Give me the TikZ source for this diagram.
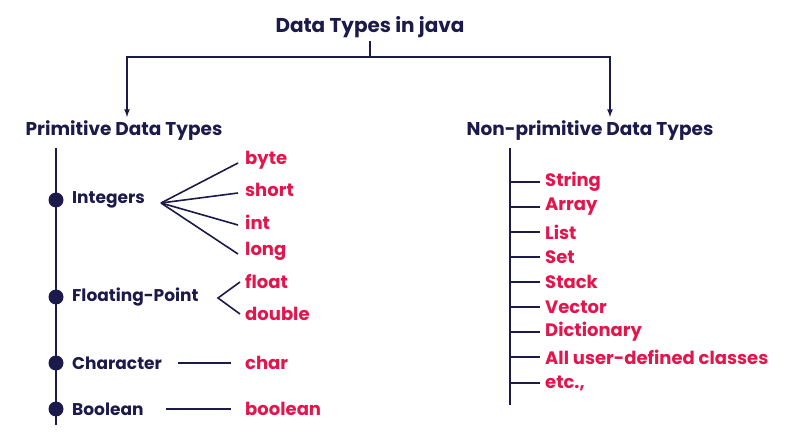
\documentclass[tikz,border=0pt]{standalone}
\usepackage{fontspec}
\setmainfont{Poppins}
\definecolor{navy}{HTML}{1C1A4A}
\definecolor{pink}{HTML}{E2154C}
\begin{document}
\begin{tikzpicture}[x=1pt,y=-1pt,
  ln/.style={draw=navy,line width=1.6pt},
  hd/.style={text=navy,font=\bfseries\fontsize{18.5}{20}\selectfont,inner sep=0pt},
  lb/.style={text=navy,font=\bfseries\fontsize{17}{20}\selectfont,anchor=west,inner sep=0pt},
  rd/.style={text=pink,font=\bfseries\fontsize{18}{20}\selectfont,anchor=west,inner sep=0pt},
  dot/.style={circle,fill=navy,minimum size=15pt,inner sep=0pt}]
\useasboundingbox (0,0) rectangle (800,443);
\node[hd,font=\bfseries\fontsize{20}{22}\selectfont] (title) at (370,27) {Data Types in java};
\node[hd] (prim) at (124,131) {Primitive Data Types};
\node[hd] (nonp) at (590,131) {Non-primitive Data Types};
\coordinate (j) at (370,57);
\draw[ln] (370,41) -- (j);
\draw[ln,-latex] (j) -| (127,117);
\draw[ln,-latex] (j) -| (610,117);
% left
\draw[ln] (56,148) -- (56,425);
\foreach \y/\t/\n in {200/Integers/int,297/Floating-Point/fp,363/Character/ch,409/Boolean/bo}{
  \node[dot] (d\n) at (56,\y) {};
  \node[lb] (l\n) at (72,\y) {\t};
}
\foreach \y/\t in {160/byte,190/short,222/int,251/long}{
  \node[rd] (r\t) at (245,\y) {\t};
  \draw[ln] (161,203) -- (238,\y+3);
}
\node[rd] (rfloat) at (245,282) {float};
\node[rd] (rdouble) at (245,314) {double};
\draw[ln] (240,282) -- (218,298) -- (240,314);
\node[rd] (rchar) at (245,363) {char};
\draw[ln] (178,363) -- (231,363);
\node[rd] (rbool) at (245,409) {boolean};
\draw[ln] (166,409) -- (231,409);
% right
\draw[ln] (510,148) -- (510,405);
\foreach \y/\t [count=\i] in {182/String,207/Array,232/List,257/Set,282/Stack,307/Vector,332/Dictionary,357/All user-defined classes,383/{etc.,}}{
  \draw[ln] (510,\y) -- (540,\y);
  \node[rd] (n\i) at (545,\y) {\t};
}
\end{tikzpicture}
\end{document}
